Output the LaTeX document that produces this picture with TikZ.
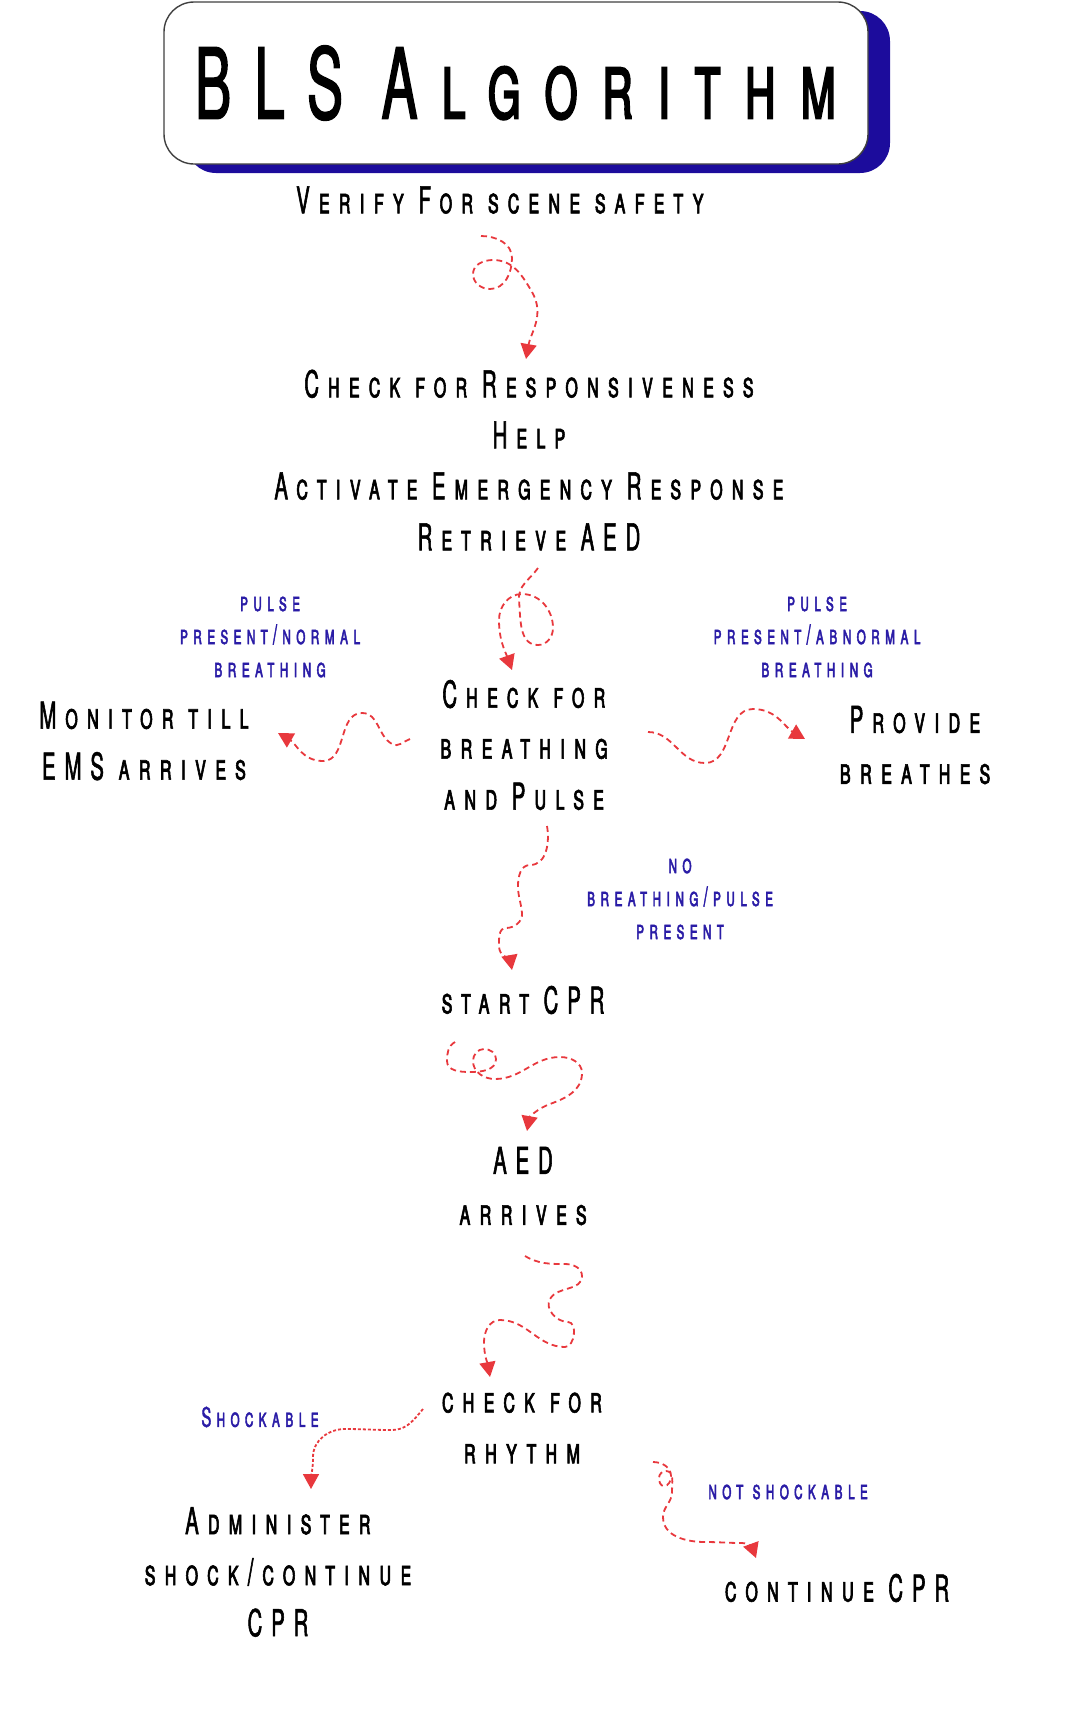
\documentclass[tikz,border=0pt]{standalone}
\usepackage{fontspec}
\setmainfont{TeX Gyre Heros}[FakeStretch=0.55, LetterSpace=24, FakeBold=1.5]
\newfontfamily\cuefont{TeX Gyre Heros}[FakeStretch=0.55, LetterSpace=19, FakeBold=1.5]
\usetikzlibrary{arrows.meta,calc,shadows}

\definecolor{cprred}{HTML}{E8383D}
\definecolor{cueblue}{HTML}{2A1CA6}
\definecolor{boxblue}{HTML}{1C0C9C}

\begin{document}
\begin{tikzpicture}[x=0.5pt, y=0.5pt, >={Triangle[length=7.5pt,width=8pt]},
    txt/.style={align=center, inner sep=0pt, font=\fontsize{18.5}{25.5}\selectfont\scshape},
    cue/.style={align=center, inner sep=0pt, text=cueblue, font=\cuefont\fontsize{13.5}{16.5}\selectfont\scshape},
    flow/.style={->, cprred, line width=0.9pt, dash pattern=on 3pt off 2pt}]
    \useasboundingbox (0,0) rectangle (1080,-1709);

    % Title
    \node [draw=black!75, line width=0.7pt, fill=white, rounded corners=15pt,
           minimum width=352pt, minimum height=81pt,
           drop shadow={shadow xshift=11pt, shadow yshift=-4.5pt, fill=boxblue, opacity=1},
           font=\fontsize{49}{49}\selectfont\scshape] (title) at (516,-83) {BLS Algorithm};

    % Nodes {steps}
    \node [txt] (verify)  at (500,-200)  {Verify For scene safety};
    \node [txt] (resp)    at (529,-460)  {Check for Responsiveness\\Help\\Activate Emergency Response\\Retrieve AED};
    \node [txt] (breath)  at (524,-745)  {Check for\\breathing\\and Pulse};
    \node [txt] (monitor) at (144,-741)  {Monitor till\\EMS arrives};
    \node [txt] (provide) at (915,-745)  {Provide\\breathes};
    \node [txt] (cpr)     at (523,-1000) {start CPR};
    \node [txt] (aed)     at (523,-1186) {AED\\arrives};
    \node [txt] (rhythm)  at (522,-1428) {check for\\rhythm};
    \node [txt] (shock)   at (278,-1572) {Administer\\shock/continue\\CPR};
    \node [txt] (contcpr) at (837,-1588) {continue CPR};

    % Nodes {labels}
    \node [cue] (normal)   at (270,-637)  {pulse\\present/normal\\breathing};
    \node [cue] (abnormal) at (817,-637)  {pulse\\present/abnormal\\breathing};
    \node [cue] (absent)   at (680,-899)  {no\\breathing/pulse\\present};
    \node [cue] (yes)      at (260,-1417) {Shockable};
    \node [cue] (no)       at (788,-1492) {not shockable};

    % Paths
    \draw [flow] ($(verify)+(-19,-36)$) to[out=0,in=90] (512,-258) to[out=-90,in=0] (490,-289)
        to[out=180,in=-90] (473,-274) to[out=90,in=180] (493,-260) to[out=0,in=120] (532,-292)
        to[out=-60,in=80] ($(resp)+(-3,101)$);
    \draw [flow] ($(resp)+(9,-108)$) to[out=-125,in=95] (519,-600) to[out=-85,in=180] (538,-645)
        to[out=0,in=-90] (553,-628) to[out=90,in=0] (522,-594) to[out=180,in=90] (499,-620)
        to[out=-90,in=110] ($(breath)+(-12,75)$);
    \draw [flow] ($(breath)+(-114,6)$) to[out=200,in=-30] (392,-744) to[out=150,in=0] (362,-713)
        to[out=180,in=0] (323,-761) to[out=180,in=-30] ($(monitor)+(134,8)$);
    \draw [flow] ($(breath)+(124,13)$) to[out=0,in=180] (705,-763) to[out=0,in=180] (753,-709)
        to[out=0,in=150] ($(provide)+(-110,6)$);
    \draw [flow] ($(breath)+(23,-81)$) to[out=-80,in=0] (530,-865) to[out=180,in=90] (518,-886)
        to[out=-90,in=95] (522,-913) to[out=-85,in=0] (506,-928) to[out=180,in=90] (499,-946)
        to[out=-90,in=100] ($(cpr)+(-11,30)$);
    \draw [flow] ($(cpr)+(-68,-42)$) to[out=-150,in=90] (447,-1061) to[out=-90,in=180] (470,-1072)
        to[out=0,in=-90] (496,-1059) to[out=90,in=0] (484,-1049) to[out=180,in=90] (473,-1061)
        to[out=-90,in=180] (495,-1079) to[out=0,in=180] (560,-1057) to[out=0,in=90] (582,-1073)
        to[out=-90,in=20] (550,-1104) to[out=200,in=80] ($(aed)+(4,55)$);
    \draw [flow] ($(aed)+(2,-70)$) to[out=-30,in=180] (565,-1264) to[out=0,in=90] (582,-1276)
        to[out=-90,in=60] (550,-1299) to[out=-120,in=180] (568,-1322) to[out=0,in=0] (565,-1347)
        to[out=180,in=0] (500,-1320) to[out=180,in=90] (484,-1342) to[out=-90,in=100] ($(rhythm)+(-32,51)$);
    \draw [flow, dash pattern=on 1.5pt off 1pt] ($(rhythm)+(-99,19)$) to[out=-130,in=0] (392,-1430)
        to[out=180,in=0] (345,-1429) to[out=180,in=90] (313,-1457) to[out=-90,in=90] ($(shock)+(33,83)$);
    \draw [flow] ($(rhythm)+(131,-34)$) to[out=0,in=90] (671,-1476) to[out=-90,in=0] (664,-1486)
        to[out=180,in=-90] (659,-1478) to[out=90,in=180] (666,-1471) to[out=0,in=90] (672,-1492)
        to[out=-90,in=90] (663,-1517) to[out=-90,in=180] (705,-1542) to[out=0,in=180] (742,-1543)
        to[out=0,in=110] ($(contcpr)+(-81,30)$);

\end{tikzpicture}
\end{document}
